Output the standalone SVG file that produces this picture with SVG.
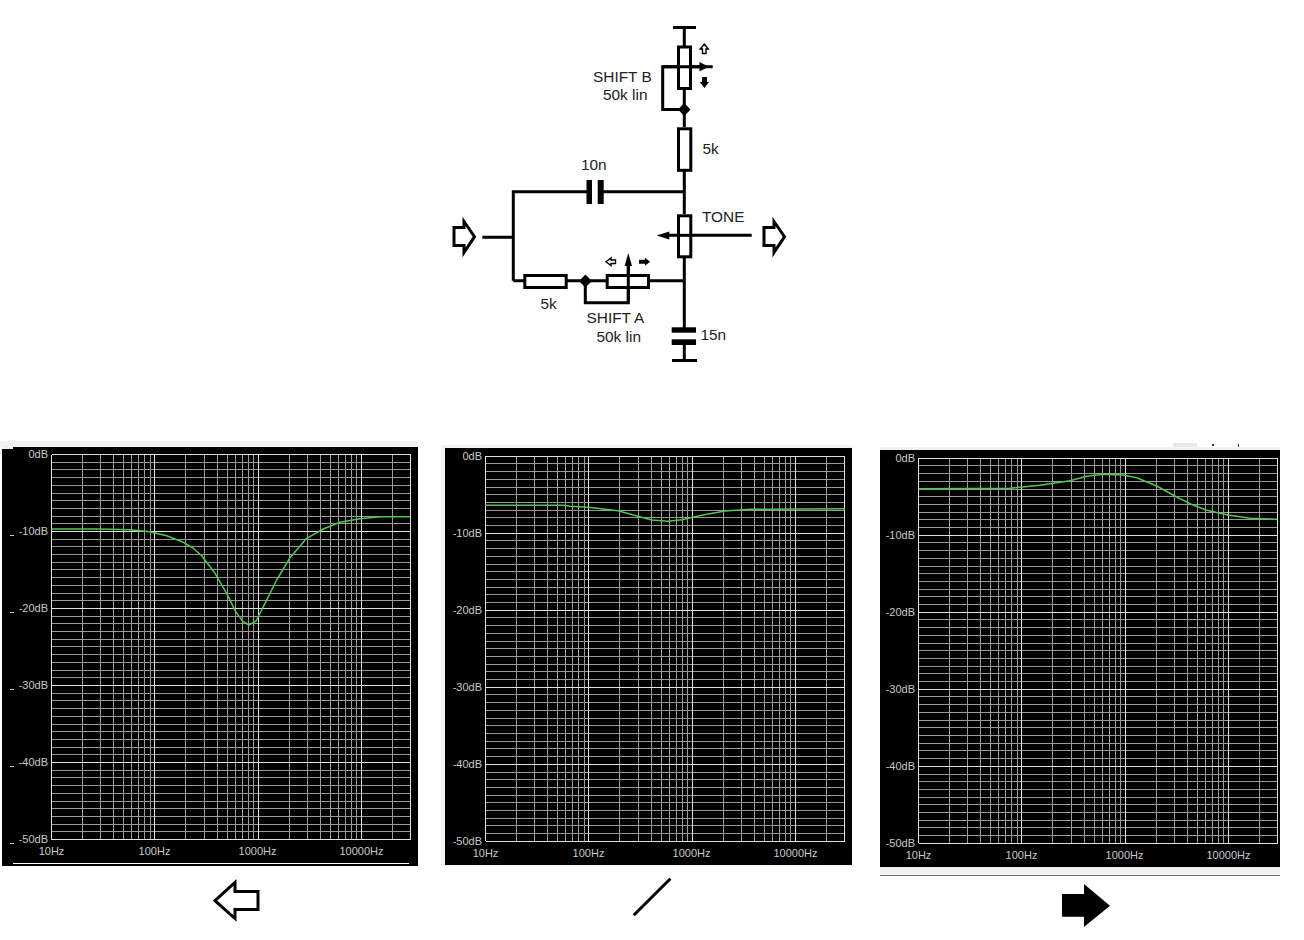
<svg xmlns="http://www.w3.org/2000/svg" width="1304" height="940" viewBox="0 0 1304 940">
<style>
text{font-family:"Liberation Sans",Arial,sans-serif}
.lbl{font-size:15.4px;fill:#222}
.ax{font-size:11px;fill:#c8c8c8}
.ay{font-size:11px;fill:#c8c8c8;text-anchor:end}
.axc{text-anchor:middle}
.w{fill:none;stroke:#000;stroke-width:3}
.r{fill:#fff;stroke:#000;stroke-width:3}
.s{fill:#000;stroke:none}
.h{fill:#fff;stroke:#000;stroke-width:1.4}
.ha{fill:#fff;stroke:#000;stroke-width:3;stroke-linejoin:miter}
.minor{fill:none;stroke:#999;stroke-width:1}
.major{fill:none;stroke:#e0e0e0;stroke-width:1}
.curve{fill:none;stroke:#52c652;stroke-width:1.5;stroke-linejoin:round}
</style>
<defs>
<g id="grid" shape-rendering="crispEdges">
<path class="minor" d="M0 7.7h359m-359 7.7h359m-359 7.7h359m-359 7.7h359m-359 7.7h359m-359 7.7h359m-359 7.7h359m-359 7.7h359m-359 7.7h359M0 84.7h359m-359 7.7h359m-359 7.7h359m-359 7.7h359m-359 7.7h359m-359 7.7h359m-359 7.7h359m-359 7.7h359m-359 7.7h359M0 161.7h359m-359 7.7h359m-359 7.7h359m-359 7.7h359m-359 7.7h359m-359 7.7h359m-359 7.7h359m-359 7.7h359m-359 7.7h359M0 238.7h359m-359 7.7h359m-359 7.7h359m-359 7.7h359m-359 7.7h359m-359 7.7h359m-359 7.7h359m-359 7.7h359m-359 7.7h359M0 315.7h359m-359 7.7h359m-359 7.7h359m-359 7.7h359m-359 7.7h359m-359 7.7h359m-359 7.7h359m-359 7.7h359m-359 7.7h359"/>
<path class="minor" d="M31 0v385M49 0v385M62 0v385M72 0v385M80 0v385M87 0v385M93 0v385M98.6 0v385M134.4 0v385M152.6 0v385M165.5 0v385M175.5 0v385M183.7 0v385M190.6 0v385M196.6 0v385M201.9 0v385M237.8 0v385M256 0v385M268.9 0v385M278.9 0v385M287.1 0v385M294 0v385M300 0v385M305.3 0v385M341.1 0v385"/>
<path class="major" d="M0 0h359M0 77h359M0 154h359M0 231h359M0 308h359M0 385h359M0 0v385M103.3 0v385M206.7 0v385M310 0v385M359 0v385"/>
</g>
</defs>

<g id="schematic-wires" class="w">
<path class="w" d="M673 27.5h23M684.3 27v20M684.3 88v39M684.3 171v43M684.3 258v70M684.3 345v15M672 360.5h25"/>
<path class="w" d="M662.7 66.7H704M662.7 65.2V109.5H684"/>
<path class="w" d="M482.3 237.3H513.3M513.3 280.7V191.7H587M603 191.7H684.3"/>
<path class="w" d="M513.3 280.7H524M566 280.7H606M649 280.7H684.3"/>
<path class="w" d="M585.3 281V302.7H628.3V262"/>
<path class="w" d="M665 235.3H751.7"/>
</g>

<g id="pot-shift-b">
<rect class="r" x="678.5" y="47" width="12" height="41.5"/>
<path class="w" d="M662.7 66.7H712.7"/>
<path class="s" d="M699.5 62L708.5 66.7L699.5 71.5Z"/>
<path class="h" d="M704.3 44L708.3 49H706V53.5H702.5V49H700.2Z"/>
<path class="s" d="M702 77H707V82H709L704.4 88L699.8 82H702Z"/>
<text class="lbl" x="593" y="82">SHIFT B</text>
<text class="lbl" x="603" y="100">50k lin</text>
</g>
<path id="junction-b" class="s" d="M684.3 103L690.5 109.5L684.3 116L678 109.5Z"/>
<g id="res-5k-top">
<rect class="r" x="678.5" y="128.8" width="12.3" height="41.5"/>
<text class="lbl" x="702.5" y="154">5k</text>
</g>
<g id="cap-10n">
<rect class="s" x="586.5" y="180" width="5.5" height="24"/>
<rect class="s" x="597.7" y="180" width="6" height="24"/>
<text class="lbl" x="581" y="169.5">10n</text>
</g>
<g id="pot-tone">
<rect class="r" x="678.5" y="215.8" width="12.3" height="41"/>
<path class="w" d="M678 235.3H692"/>
<path class="s" d="M656.7 235.5L669.3 231.5V239.5Z"/>
<text class="lbl" x="702" y="222.3">TONE</text>
</g>
<g id="res-5k-bottom">
<rect class="r" x="524.8" y="275.5" width="41.4" height="12"/>
<text class="lbl" x="540.5" y="308.5">5k</text>
</g>
<path id="junction-a" class="s" d="M585.3 274.5L592 281L585.3 287.5L579 281Z"/>
<g id="pot-shift-a">
<rect class="r" x="607.2" y="275.5" width="41.3" height="12"/>
<path class="w" d="M628.3 262V302.7"/>
<path class="s" d="M628.3 253L632 266H624.6Z"/>
<path class="h" d="M606 261.7L611 257.9V260H615.5V263.5H611V265.5Z"/>
<path class="s" d="M650 261.7L645 257.7V259.7H639V263.7H645V265.7Z"/>
<text class="lbl" x="586.5" y="323.2">SHIFT A</text>
<text class="lbl" x="596.5" y="341.5">50k lin</text>
</g>
<g id="cap-15n">
<rect class="s" x="671.7" y="327.3" width="24.3" height="5.4"/>
<rect class="s" x="671.7" y="339.3" width="24.3" height="5.7"/>
<text class="lbl" x="700.5" y="339.5">15n</text>
</g>
<path id="input-arrow" class="ha" d="M454 227.5H464V221.5L474.5 236.7L464 252.5V245.5H454Z"/>
<path id="output-arrow" class="ha" d="M764 227.5H774V221.5L784.5 236.7L774 252.5V245.5H764Z"/>

<g id="plot-left">
<rect x="0" y="441" width="418" height="6" fill="#f2f2f2"/>
<rect x="2" y="447" width="416" height="419" fill="#000"/>
<rect x="2" y="447" width="11" height="2" fill="#f2f2f2"/>
<rect x="13" y="863" width="396" height="1" fill="#fff"/>
<use href="#grid" x="51.5" y="454.5"/>
<path class="curve" d="M51.5 529L100 529L130 529.7L150 531.7L166.7 535.7L183.3 542.3L193 548L201.7 555.7L215 573.3L226.7 593.3L236 612.3L243.3 621.7L249 625L256 621L265 603.3L276.7 580L290 557.7L306.7 538.3L323.3 529L340 522.3L360 518.7L380 516.7L410 516.7"/>
<g fill="#c4c4c4"><rect x="10" y="535" width="4" height="1"/><rect x="10" y="612" width="4" height="1"/><rect x="10" y="689" width="4" height="1"/><rect x="10" y="766" width="4" height="1"/><rect x="10" y="843" width="4" height="1"/></g>
<text class="ay" x="48" y="458">0dB</text>
<text class="ay" x="48" y="535">-10dB</text>
<text class="ay" x="48" y="612">-20dB</text>
<text class="ay" x="48" y="689">-30dB</text>
<text class="ay" x="48" y="766">-40dB</text>
<text class="ay" x="48" y="843">-50dB</text>
<text class="ax axc" x="51.5" y="855">10Hz</text>
<text class="ax axc" x="154.5" y="855">100Hz</text>
<text class="ax axc" x="257.5" y="855">1000Hz</text>
<text class="ax axc" x="361.5" y="855">10000Hz</text>
</g>

<g id="plot-middle">
<rect x="441" y="445" width="411" height="421" fill="#f4f4f4"/>
<rect x="445" y="448" width="407" height="417" fill="#000"/>
<use href="#grid" x="485.5" y="456.3"/>
<path class="curve" d="M485.3 505.3L563 505.3L570 506.3L588 507.3L618 510.7L638 516.3L651.7 520L668 521.3L681.7 519.7L701.7 515.3L725 511L750 509.3L795 509L844.7 508.7"/>
<text class="ay" x="482" y="460">0dB</text>
<text class="ay" x="482" y="537">-10dB</text>
<text class="ay" x="482" y="614">-20dB</text>
<text class="ay" x="482" y="691">-30dB</text>
<text class="ay" x="482" y="768">-40dB</text>
<text class="ay" x="482" y="845">-50dB</text>
<text class="ax axc" x="485.5" y="857">10Hz</text>
<text class="ax axc" x="588.5" y="857">100Hz</text>
<text class="ax axc" x="691.5" y="857">1000Hz</text>
<text class="ax axc" x="795.5" y="857">10000Hz</text>
</g>

<g id="plot-right">
<rect x="880" y="447.3" width="400" height="427" fill="#f0f0f2"/>
<rect x="880" y="450" width="400" height="417" fill="#000"/>
<rect x="880" y="875" width="400" height="1" fill="#5f6870"/>
<rect x="1173" y="443" width="24" height="4" fill="#e8e8f0"/>
<rect x="1212" y="444" width="2" height="2" fill="#333"/>
<rect x="1238" y="444" width="1" height="3" fill="#333"/>
<use href="#grid" x="918.5" y="458.3"/>
<path class="curve" d="M918.7 488.7L1010 488.3L1020 487.3L1040 485.3L1070 480.7L1086.7 476.3L1103 474.3L1123 475L1136.7 477.7L1156.7 486L1176.7 497L1190 503.7L1206.7 510.3L1228 515L1250 518.3L1277 519.3"/>
<text class="ay" x="915" y="462">0dB</text>
<text class="ay" x="915" y="539">-10dB</text>
<text class="ay" x="915" y="616">-20dB</text>
<text class="ay" x="915" y="693">-30dB</text>
<text class="ay" x="915" y="770">-40dB</text>
<text class="ay" x="915" y="847">-50dB</text>
<text class="ax axc" x="918.5" y="859">10Hz</text>
<text class="ax axc" x="1021.5" y="859">100Hz</text>
<text class="ax axc" x="1124.5" y="859">1000Hz</text>
<text class="ax axc" x="1228.5" y="859">10000Hz</text>
</g>

<path id="arrow-left" class="ha" d="M215 900.7L235 882.5V891.5H258V909.5H235V918.5Z"/>
<path id="slash" class="w" d="M633.7 915.3L670.3 878.7"/>
<path id="arrow-right" class="s" d="M1062 894H1084V884L1110 905.7L1084 927V916.7H1062Z"/>
</svg>
